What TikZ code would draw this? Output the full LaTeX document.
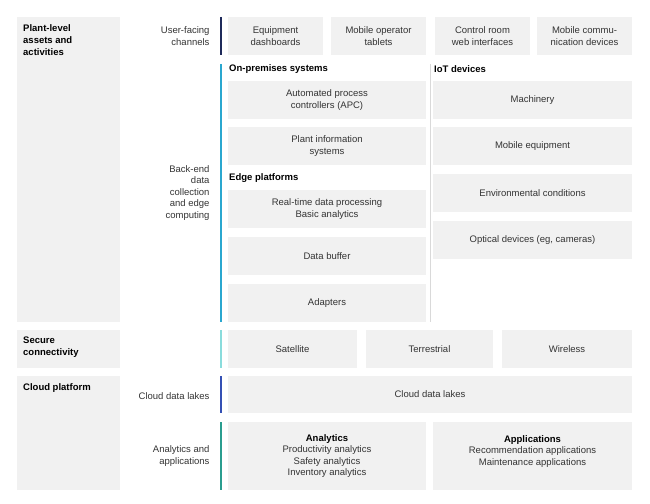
\documentclass[tikz,border=0pt]{standalone}
\usepackage{fontspec}
\setmainfont{Liberation Sans}
\definecolor{boxgray}{HTML}{F1F1F1}
\definecolor{txtgray}{HTML}{333333}
\definecolor{barnavy}{HTML}{1E2A5A}
\definecolor{barteal}{HTML}{2AA7CF}
\definecolor{barcyan}{HTML}{8ADCDC}
\definecolor{barblue}{HTML}{3450B4}
\definecolor{bargreen}{HTML}{2A9D8F}
\tikzset{
  cell/.style={fill=boxgray, draw=none, inner sep=0pt, align=center, text=txtgray, font=\fontsize{9.5}{11.5}\selectfont},
  side/.style={anchor=east, align=right, text=txtgray, font=\fontsize{9.5}{11.5}\selectfont},
  head/.style={anchor=west, font=\fontsize{9.5}{11.5}\selectfont\bfseries, inner sep=0pt},
  lhead/.style={anchor=north west, align=left, font=\fontsize{9.5}{12}\selectfont\bfseries, inner sep=0pt},
  bar/.style={line width=2pt}
}
\newcommand{\cellbox}[6]{% name, x1, y1, x2, y2, text
  \fill[boxgray] (#2,#3) rectangle (#4,#5);
  \node[cell] (#1) at ({(#2+#4)/2},{(#3+#5)/2}) {#6};}
\begin{document}
\begin{tikzpicture}[x=1pt, y=-1pt]
  \useasboundingbox (0,0) rectangle (650,503);
  % left column
  \fill[boxgray] (17,17) rectangle (120,322);
  \fill[boxgray] (17,330) rectangle (120,368);
  \fill[boxgray] (17,376) rectangle (120,490);
  \node[lhead] (plant) at (23,24) {Plant-level\\assets and\\activities};
  \node[lhead] (secure) at (23,337) {Secure\\connectivity};
  \node[lhead] (cloud) at (23,383) {Cloud platform};
  % side labels
  \node[side] (user) at (213,36) {User-facing\\channels};
  \node[side] (backend) at (213,193) {Back-end\\data\\collection\\and edge\\computing};
  \node[side] (lakes) at (213,396) {Cloud data lakes};
  \node[side] (anapp) at (213,456) {Analytics and\\applications};
  % bars
  \draw[bar, barnavy] (221,17) -- (221,55);
  \draw[bar, barteal] (221,64) -- (221,322);
  \draw[bar, barcyan] (221,330) -- (221,368);
  \draw[bar, barblue] (221,376) -- (221,413);
  \draw[bar, bargreen] (221,422) -- (221,490);
  \draw[line width=0.6pt, black!15] (430,64) -- (430,322);
  % user-facing channels
  \cellbox{dash}{228}{17}{323}{55}{Equipment\\dashboards}
  \cellbox{tabl}{331}{17}{426}{55}{Mobile operator\\tablets}
  \cellbox{ctrl}{435}{17}{530}{55}{Control room\\web interfaces}
  \cellbox{comm}{537}{17}{632}{55}{Mobile commu-\\nication devices}
  % on-premises and edge
  \node[head] (onprem) at (229,69) {On-premises systems};
  \cellbox{apc}{228}{81}{426}{119}{Automated process\\controllers (APC)}
  \cellbox{pis}{228}{127}{426}{165}{Plant information\\systems}
  \node[head] (edge) at (229,178) {Edge platforms};
  \cellbox{rt}{228}{190}{426}{228}{Real-time data processing\\Basic analytics}
  \cellbox{buf}{228}{237}{426}{275}{Data buffer}
  \cellbox{adp}{228}{284}{426}{322}{Adapters}
  % IoT devices
  \node[head] (iot) at (434,69) {IoT devices};
  \cellbox{mach}{433}{81}{632}{119}{Machinery}
  \cellbox{mobeq}{433}{127}{632}{165}{Mobile equipment}
  \cellbox{env}{433}{174}{632}{212}{Environmental conditions}
  \cellbox{opt}{433}{221}{632}{259}{Optical devices (eg, cameras)}
  % connectivity
  \cellbox{sat}{228}{330}{357}{368}{Satellite}
  \cellbox{ter}{366}{330}{493}{368}{Terrestrial}
  \cellbox{wir}{502}{330}{632}{368}{Wireless}
  % cloud
  \cellbox{cdl}{228}{376}{632}{413}{Cloud data lakes}
  \cellbox{ana}{228}{422}{426}{490}{\textbf{\color{black}Analytics}\\Productivity analytics\\Safety analytics\\Inventory analytics}
  \cellbox{app}{433}{422}{632}{490}{\textbf{\color{black}Applications}\\Recommendation applications\\Maintenance applications\\\mbox{}}
\end{tikzpicture}
\end{document}
